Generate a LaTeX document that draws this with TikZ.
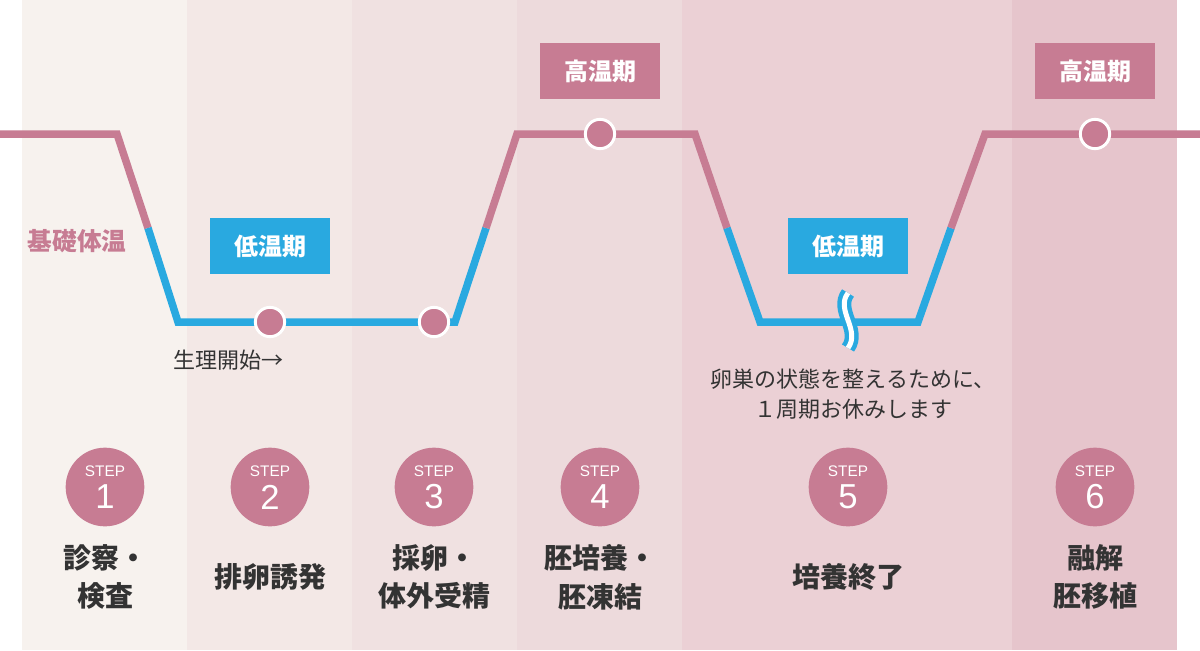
\documentclass[tikz,border=0pt]{standalone}
\usepackage{fontspec}
\setmainfont{Noto Sans CJK JP}
\newfontfamily\numfont{Liberation Sans}
\usetikzlibrary{calc}
\definecolor{pk}{HTML}{C77C93}
\definecolor{bl}{HTML}{29A9E0}
\definecolor{c1}{HTML}{F7F2EE}
\definecolor{c2}{HTML}{F3E8E6}
\definecolor{c3}{HTML}{F0E1E1}
\definecolor{c4}{HTML}{EDDADC}
\definecolor{c5}{HTML}{EBD0D5}
\definecolor{c6}{HTML}{E6C5CC}
\definecolor{tx}{HTML}{333333}
\tikzset{
 px/.style={x=0.75pt,y=-0.75pt},
 pline/.style={pk,line width=7.5pt*0.75},
 bline/.style={bl,line width=7.5pt*0.75},
 dotc/.style={circle,fill=pk,draw=white,line width=2.2pt,minimum size=22pt,inner sep=0pt},
 tag/.style={fill=#1,text=white,font=\bfseries\fontsize{18}{20}\selectfont,minimum width=90pt,minimum height=42pt,inner sep=0pt},
 stepc/.style={circle,fill=pk,minimum size=59pt,inner sep=0pt,text=white,align=center},
 lab/.style={text=tx,font=\bfseries\fontsize{21}{29}\selectfont,align=center},
 note/.style={text=tx,font=\fontsize{16.5}{22}\selectfont,align=center}
}
\begin{document}
\begin{tikzpicture}[px]
\useasboundingbox (0,0) rectangle (1200,650);
\fill[white] (0,0) rectangle (1200,650);
\fill[c1] (22,0) rectangle (187,650);
\fill[c2] (187,0) rectangle (352,650);
\fill[c3] (352,0) rectangle (517,650);
\fill[c4] (517,0) rectangle (682,650);
\fill[c5] (682,0) rectangle (1012,650);
\fill[c6] (1012,0) rectangle (1177,650);
% line
\coordinate (a0) at (0,134); \coordinate (a1) at (117,134);
\coordinate (a2) at (148,228); \coordinate (a3) at (178,322);
\coordinate (a4) at (455,322); \coordinate (a5) at (486,228);
\coordinate (a6) at (517,134); \coordinate (a7) at (695,134);
\coordinate (a8) at (727,228); \coordinate (a9) at (760,322);
\coordinate (a10) at (918,322); \coordinate (a11) at (951,228);
\coordinate (a12) at (985,134); \coordinate (a13) at (1200,134);
\draw[pline,line join=miter] (a0)--(a1)--(a2);
\draw[bline,line join=miter] (a2)--(a3)--(a4)--(a5);
\draw[pline,line join=miter] (a5)--(a6)--(a7)--(a8);
\draw[bline,line join=miter] (a8)--(a9)--(a10)--(a11);
\draw[pline,line join=miter] (a11)--(a12)--(a13);
% break
\coordinate (b0) at (848,293); \coordinate (b1) at (848,348);
\draw[bl,line width=14pt*0.75] (b0) .. controls (835,310) and (861,330) .. (b1);
\draw[white,line width=5pt*0.75] (b0) .. controls (835,310) and (861,330) .. (b1);
% dots
\node[dotc] (d1) at (270,322) {};
\node[dotc] (d2) at (434,322) {};
\node[dotc] (d3) at (600,134) {};
\node[dotc] (d4) at (1095,134) {};
% tags
\node[tag=bl] (t1) at (270,246) {低温期};
\node[tag=bl] (t2) at (848,246) {低温期};
\node[tag=pk] (t3) at (600,71) {高温期};
\node[tag=pk] (t4) at (1095,71) {高温期};
\node[text=pk,font=\bfseries\fontsize{18.5}{20}\selectfont] (kt) at (77,241) {基礎体温};
\node[note] (n1) at (228,360) {生理開始→};
\node[note] (n2) at (853,394) {卵巣の状態を整えるために、\\１周期お休みします};
% steps
\foreach \i/\x/\t in {1/105/診察・\\検査,2/270/排卵誘発,3/434/採卵・\\体外受精,4/600/胚培養・\\胚凍結,5/848/培養終了,6/1095/融解\\胚移植}{
 \node[stepc] (s\i) at (\x,487) {};
 \node[text=white,font=\numfont\fontsize{11.5}{12}\selectfont] at (\x,471) {STEP};
 \node[text=white,font=\numfont\fontsize{26}{26}\selectfont] at (\x,497) {\i};
 \node[lab] (l\i) at (\x,577) {\t};
}
\end{tikzpicture}
\end{document}
